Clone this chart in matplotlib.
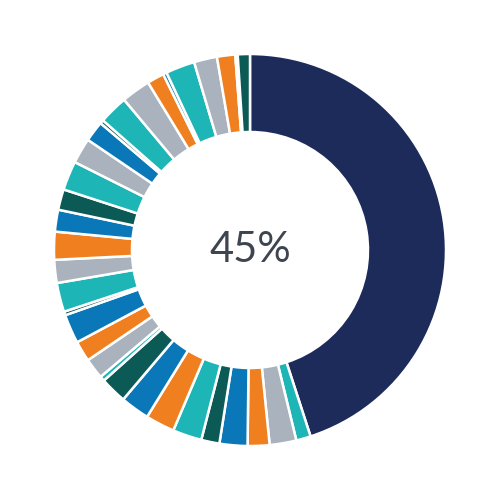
import matplotlib
matplotlib.use("Agg")
import matplotlib.pyplot as plt

# colour keys
N, T, G, O, B, D = "#1d2b5a", "#1db5b5", "#aab2be", "#f0801f", "#0a78b8", "#0c5a55"

# slices, clockwise from 12 o'clock
values = [45,
          1.2, 2.2, 1.8, 2.3, 1.5, 2.4, 2.4, 2.4, 2.2, 0.4,
          1.7, 1.7, 2.4, 0.3, 2.4, 1.9, 2.3, 1.8, 1.7, 2.4,
          2.1, 1.7, 0.3, 2.4, 2.4, 1.4, 0.3, 2.4, 1.9, 1.5,
          0.2, 1.0]
colors = [N,
          T, G, O, B, D, T, O, B, D, T,
          G, O, B, D, T, G, O, B, D, T,
          G, B, D, T, G, O, B, T, G, O,
          B, D]
label = "45%"

fig, ax = plt.subplots(figsize=(5, 5), dpi=100)
ax.pie(values, colors=colors, startangle=90, counterclock=False, radius=0.98,
       wedgeprops=dict(width=0.39, edgecolor="white", linewidth=1.8))
ax.text(0, 0, label, ha="center", va="center", fontsize=30, color="#3d4650",
        family="Lato")
ax.set_aspect("equal")
plt.subplots_adjust(0, 0, 1, 1)
fig.savefig("out.png")
